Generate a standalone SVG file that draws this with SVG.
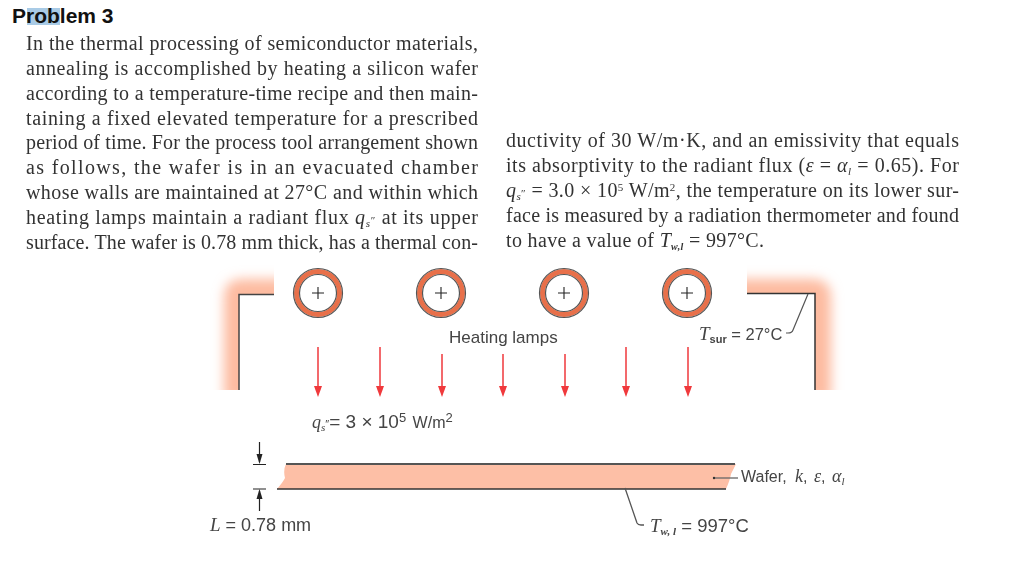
<svg xmlns="http://www.w3.org/2000/svg" width="1024" height="573" viewBox="0 0 1024 573">
<style>
.b{font-family:"Liberation Serif",serif;font-size:20px;fill:#333}
.s{font-family:"Liberation Sans",sans-serif;font-size:17px;fill:#444}
.i{font-family:"Liberation Serif",serif;font-style:italic}
.ln{stroke:#444;fill:none;stroke-width:1.5}
.ring{fill:#fff;stroke:#e8704a;stroke-width:5}
.rim{fill:none;stroke:#555;stroke-width:1.2}
.plus{stroke:#222;stroke-width:1.1;fill:none}
</style>
<defs>
<filter id="soft" x="-40%" y="-40%" width="180%" height="180%"><feGaussianBlur stdDeviation="6"/></filter>
<filter id="t" x="-5%" y="-20%" width="110%" height="140%"><feGaussianBlur stdDeviation="0.35"/></filter>
<clipPath id="cl"><path d="M200 265H274V294H239V390H200Z"/></clipPath>
<clipPath id="cr"><path d="M747 265H860V390H815V294H747Z"/></clipPath>
</defs>
<rect width="1024" height="573" fill="#fff"/>
<rect x="27" y="8" width="33" height="17" fill="#a9cbe6"/>
<text x="12" y="23" font-family="Liberation Sans,sans-serif" font-weight="700" font-size="21" fill="#111">Problem 3</text>
<g id="text-left" class="b" filter="url(#t)">
<text x="26" y="50" textLength="452">In the thermal processing of semiconductor materials,</text>
<text x="26" y="75" textLength="452">annealing is accomplished by heating a silicon wafer</text>
<text x="26" y="100" textLength="452">according to a temperature-time recipe and then main-</text>
<text x="26" y="125" textLength="452">taining a fixed elevated temperature for a prescribed</text>
<text x="26" y="149" textLength="452">period of time. For the process tool arrangement shown</text>
<text x="26" y="174" textLength="452">as follows, the wafer is in an evacuated chamber</text>
<text x="26" y="199" textLength="452">whose walls are maintained at 27°C and within which</text>
<text x="26" y="224" textLength="452">heating lamps maintain a radiant flux <tspan class="i">q</tspan><tspan class="i" font-size="11" dy="3">s</tspan><tspan dy="-3" font-size="11">″</tspan> at its upper</text>
<text x="26" y="249" textLength="452">surface. The wafer is 0.78 mm thick, has a thermal con-</text>
</g>
<g id="text-right" class="b" filter="url(#t)">
<text x="506" y="147" textLength="453">ductivity of 30 W/m·K, and an emissivity that equals</text>
<text x="506" y="172" textLength="453">its absorptivity to the radiant flux (<tspan class="i">ε</tspan> = <tspan class="i">α</tspan><tspan class="i" font-size="11" dy="3">l</tspan><tspan dy="-3"> = 0.65). For</tspan></text>
<text x="506" y="197" textLength="453"><tspan class="i">q</tspan><tspan class="i" font-size="11" dy="3">s</tspan><tspan dy="-3" font-size="11">″</tspan> = 3.0 × 10<tspan font-size="11" dy="-6">5</tspan><tspan dy="6"> W/m</tspan><tspan font-size="11" dy="-6">2</tspan><tspan dy="6">, the temperature on its lower sur-</tspan></text>
<text x="506" y="222" textLength="453">face is measured by a radiation thermometer and found</text>
<text x="506" y="247" textLength="258">to have a value of <tspan class="i">T</tspan><tspan class="i" font-size="10" dy="3" font-weight="700">w,l</tspan><tspan dy="-3"> = 997°C.</tspan></text>
</g>
<g id="wall-left">
<g clip-path="url(#cl)"><path d="M260 400V310H290V279H243Q224 279 224 298V400Z" fill="#fdbba0" filter="url(#soft)"/></g>
<path d="M239 390V294.500H274" class="ln"/>
</g>
<g id="wall-right">
<g clip-path="url(#cr)"><path d="M795 400V310H730V279H812Q831 279 831 298V400Z" fill="#fdbba0" filter="url(#soft)"/></g>
<path d="M747 293.500H815V390" stroke="#333" stroke-width="1.500" fill="none"/>
</g>
<g id="lamp-1"><circle cx="318" cy="293" r="21.500" class="ring"/><circle cx="318" cy="293" r="24.500" class="rim"/><circle cx="318" cy="293" r="18.500" class="rim"/><path d="M312 293H324M318 287V299" class="plus"/></g>
<g id="lamp-2"><circle cx="441" cy="293" r="21.500" class="ring"/><circle cx="441" cy="293" r="24.500" class="rim"/><circle cx="441" cy="293" r="18.500" class="rim"/><path d="M435 293H447M441 287V299" class="plus"/></g>
<g id="lamp-3"><circle cx="564" cy="293" r="21.500" class="ring"/><circle cx="564" cy="293" r="24.500" class="rim"/><circle cx="564" cy="293" r="18.500" class="rim"/><path d="M558 293H570M564 287V299" class="plus"/></g>
<g id="lamp-4"><circle cx="687" cy="293" r="21.500" class="ring"/><circle cx="687" cy="293" r="24.500" class="rim"/><circle cx="687" cy="293" r="18.500" class="rim"/><path d="M681 293H693M687 287V299" class="plus"/></g>
<g id="wafer">
<path d="M286 464H736Q733 470 731 474Q730 480 726 489H277Q283 482 285 478Q283 470 286 464Z" fill="#fdbfa6"/>
<path d="M286 464H735" stroke="#555" stroke-width="1.800"/>
<path d="M277 489H726" stroke="#333" stroke-width="1.500"/>
</g>
<g id="connectors">
<g stroke="#f0393c" stroke-width="1.500" fill="#f0393c">
<path d="M318 347V388M380 347V388M442 354V388M503 354V388M565 354V388M626 347V388M688 347V388"/>
<g stroke="none"><path d="M314 386H322L318 397Z"/><path d="M376 386H384L380 397Z"/><path d="M438 386H446L442 397Z"/><path d="M499 386H507L503 397Z"/><path d="M561 386H569L565 397Z"/><path d="M622 386H630L626 397Z"/><path d="M684 386H692L688 397Z"/></g>
</g>
<g fill="#222" stroke="#222" stroke-width="1.200">
<path d="M259.500 442V462M253 464.500H266M253 489H266M259.500 491V511" fill="none"/>
<path d="M256.500 454H262.500L259.500 464Z" stroke="none"/><path d="M256.500 499H262.500L259.500 489Z" stroke="none"/>
</g>
<path d="M808 294L793 330Q792 333 788 333H786" fill="none" stroke="#555" stroke-width="1.200"/>
<path d="M714 478H738" stroke="#666" stroke-width="1.300"/><circle cx="714" cy="478" r="1.200" fill="#333"/>
<path d="M625 488L637 523Q638 525 641 525H644" fill="none" stroke="#555" stroke-width="1.300"/>
</g>
<g id="labels" class="s" filter="url(#t)">
<text x="449" y="343">Heating lamps</text>
<text x="699" y="340" font-size="16.500"><tspan class="i" font-size="19">T</tspan><tspan font-size="11" dy="3" font-weight="700">sur</tspan><tspan dy="-3"> = 27°C</tspan></text>
<text x="312" y="428"><tspan class="i" font-size="18">q</tspan><tspan class="i" font-size="11" dy="3">s</tspan><tspan dy="-3" font-size="11">″</tspan><tspan font-size="19">= 3 × 10</tspan><tspan font-size="13" dy="-6">5</tspan><tspan dy="6" font-size="16" dx="2"> W/m</tspan><tspan font-size="13" dy="-6">2</tspan></text>
<text x="210" y="531" font-size="18"><tspan class="i" font-size="19">L</tspan> = 0.78 mm</text>
<text x="741" y="482" font-size="16">Wafer, <tspan class="i" font-size="18" dx="4">k</tspan>, <tspan class="i" font-size="18" dx="2">ε</tspan>, <tspan class="i" font-size="18" dx="2">α</tspan><tspan class="i" font-size="11" dy="3">l</tspan></text>
<text x="650" y="532"><tspan class="i" font-size="19">T</tspan><tspan class="i" font-size="11" dy="3" font-weight="700">w, l</tspan><tspan dy="-3" font-size="18.500"> = 997°C</tspan></text>
</g>
</svg>
